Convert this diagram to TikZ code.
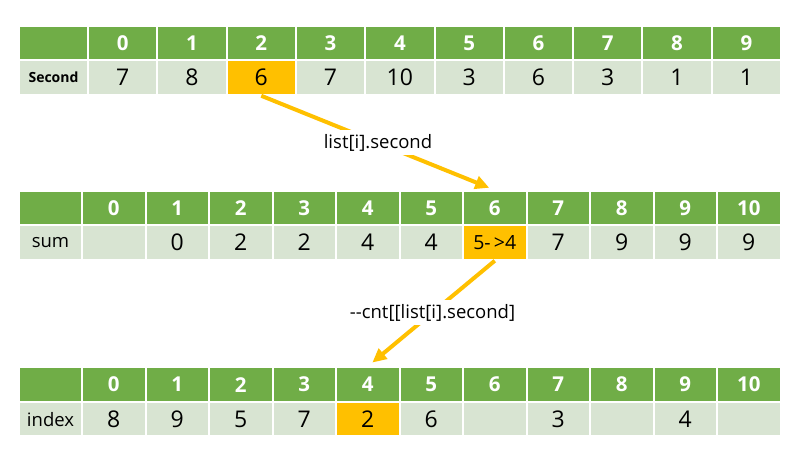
\documentclass[tikz,border=0pt]{standalone}
\usepackage{fontspec}
\setmainfont{Open Sans}
\usetikzlibrary{arrows.meta}
\definecolor{hgreen}{HTML}{70AD47}
\definecolor{dgreen}{HTML}{D8E4D2}
\definecolor{gold}{HTML}{FFC000}

\begin{document}
\begin{tikzpicture}[x=1pt,y=-1pt,
    cell/.style={draw=white,line width=2pt,inner sep=0pt,minimum height=34.5pt},
    hcell/.style={cell,fill=hgreen,text=white,font=\fontsize{20.5}{24}\selectfont\bfseries},
    dcell/.style={cell,font=\fontsize{23}{26}\selectfont},
    link/.style={draw=gold,line width=4pt,-{Triangle[length=14pt,width=13pt]},shorten >=6pt},
    tag/.style={fill=white,inner sep=4pt,font=\fontsize{18.5}{22}\selectfont}]
    \useasboundingbox (0,0) rectangle (800,450);
    \node[hcell,minimum width=69pt] (sec-h) at (53.5,43) {};
    \node[dcell,fill=dgreen,minimum width=69pt,font=\fontsize{14}{16}\selectfont\bfseries] (sec-l) at (53.5,77.5) {Second};
    \foreach \v/\c [count=\i from 0] in {7/dgreen,8/dgreen,6/gold,7/dgreen,10/dgreen,3/dgreen,6/dgreen,3/dgreen,1/dgreen,1/dgreen}{
        \node[hcell,minimum width=69.3pt] (sec-h-\i) at (122.65+69.3*\i,43) {\i};
        \node[dcell,fill=\c,minimum width=69.3pt] (sec-\i) at (122.65+69.3*\i,77.5) {\v};
    }
    \node[hcell,minimum width=63pt] (sum-h) at (50.5,208.25) {};
    \node[dcell,fill=dgreen,minimum width=63pt,font=\fontsize{18.5}{22}\selectfont] (sum-l) at (50.5,242.5) {sum};
    \foreach \v/\c [count=\i from 0] in {{}/dgreen,0/dgreen,2/dgreen,2/dgreen,4/dgreen,4/dgreen,{\fontsize{19.5}{22}\selectfont 5-\,>4}/gold,7/dgreen,9/dgreen,9/dgreen,9/dgreen}{
        \node[hcell,minimum width=63.5pt] (sum-h-\i) at (113.75+63.5*\i,208.25) {\i};
        \node[dcell,fill=\c,minimum width=63.5pt] (sum-\i) at (113.75+63.5*\i,242.5) {\v};
    }
    \node[hcell,minimum width=63pt] (idx-h) at (50.5,384.6) {};
    \node[dcell,fill=dgreen,minimum width=63pt,font=\fontsize{18.5}{22}\selectfont] (idx-l) at (50.5,419.1) {index};
    \foreach \v/\c [count=\i from 0] in {8/dgreen,9/dgreen,5/dgreen,7/dgreen,2/gold,6/dgreen,{}/dgreen,3/dgreen,{}/dgreen,4/dgreen,{}/dgreen}{
        \node[hcell,minimum width=63.5pt] (idx-h-\i) at (113.75+63.5*\i,384.6) {\i};
        \node[dcell,fill=\c,minimum width=63.5pt] (idx-\i) at (113.75+63.5*\i,419.1) {\v};
    }
    \draw[link] (sec-2.south) -- node[tag,pos=0.5] (lbl-sec) {list[i].second} (sum-h-6.north);
    \draw[link] (sum-6.south) -- node[tag,pos=0.49] (lbl-cnt) {-{}-cnt[[list[i].second]} (idx-h-4.north);
\end{tikzpicture}
\end{document}
